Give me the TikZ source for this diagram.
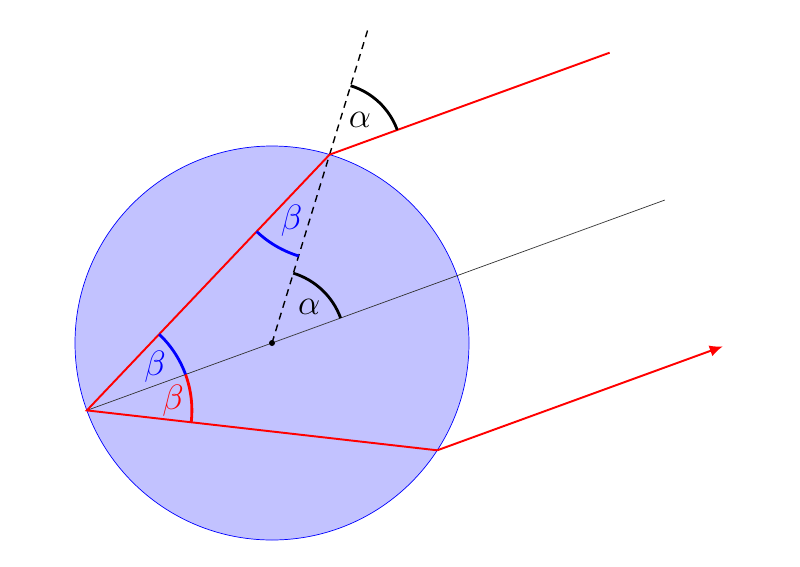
\documentclass[tikz,border=0pt]{standalone}
\usepackage{graphicx}
\usetikzlibrary{calc,arrows.meta}
\newcommand{\biglbl}[1]{\scalebox{1.16}{\LARGE$#1$}}
\begin{document}
\begin{tikzpicture}[x=0.02cm,y=0.02cm,
  ray/.style={red,line width=1.1pt},
  angarc/.style={line width=1.6pt},
  lbl/.style={inner sep=0pt}]
\useasboundingbox (0,0) rectangle (800,566);
\coordinate (O) at (272,223);
\coordinate (A) at ($(O)+(73:197)$);
\coordinate (B) at ($(O)+(200:197)$);
\coordinate (C) at ($(O)+(327:197)$);
\coordinate (Din) at ($(A)+(20:298)$);
\coordinate (N) at ($(O)+(73:332)$);
\coordinate (G) at ($(O)+(20:418)$);
\coordinate (E) at ($(C)+(20:304)$);
% drop
\draw[blue,fill=blue!24,line width=0.4pt] (O) circle[radius=197];
% axis
\draw[black!80,line width=0.4pt] (B) -- (G);
% normal
\draw[line width=0.8pt,dash pattern=on 4pt off 3pt] (O) -- (N);
\fill (O) circle[radius=3];
% rays
\draw[ray] (Din) -- (A) -- (B) -- (C);
\draw[ray,-{Latex[length=7.5pt,width=6.5pt]}] (C) -- (E);
% angles
\draw[angarc] ($(A)+(73:72)$) arc[start angle=73,end angle=20,radius=72];
\draw[angarc] ($(O)+(73:73)$) arc[start angle=73,end angle=20,radius=73];
\draw[angarc,blue] ($(A)+(253:106)$) arc[start angle=253,end angle=226.5,radius=106];
\draw[angarc,blue] ($(B)+(46.5:105)$) arc[start angle=46.5,end angle=20,radius=105];
\draw[angarc,red] ($(B)+(20:105)$) arc[start angle=20,end angle=-6.5,radius=105];
% labels
\node[lbl] (la1) at ($(A)+(48.7:46)$) {\biglbl{\alpha}};
\node[lbl] (la2) at ($(O)+(44:51.6)$) {\biglbl{\alpha}};
\node[lbl,text=blue] (lb1) at ($(A)+(240:76)$) {\biglbl{\beta}};
\node[lbl,text=blue] (lb2) at ($(B)+(32.5:80.8)$) {\biglbl{\beta}};
\node[lbl,text=red] (lb3) at ($(B)+(6.2:86.6)$) {\biglbl{\beta}};
\end{tikzpicture}
\end{document}
